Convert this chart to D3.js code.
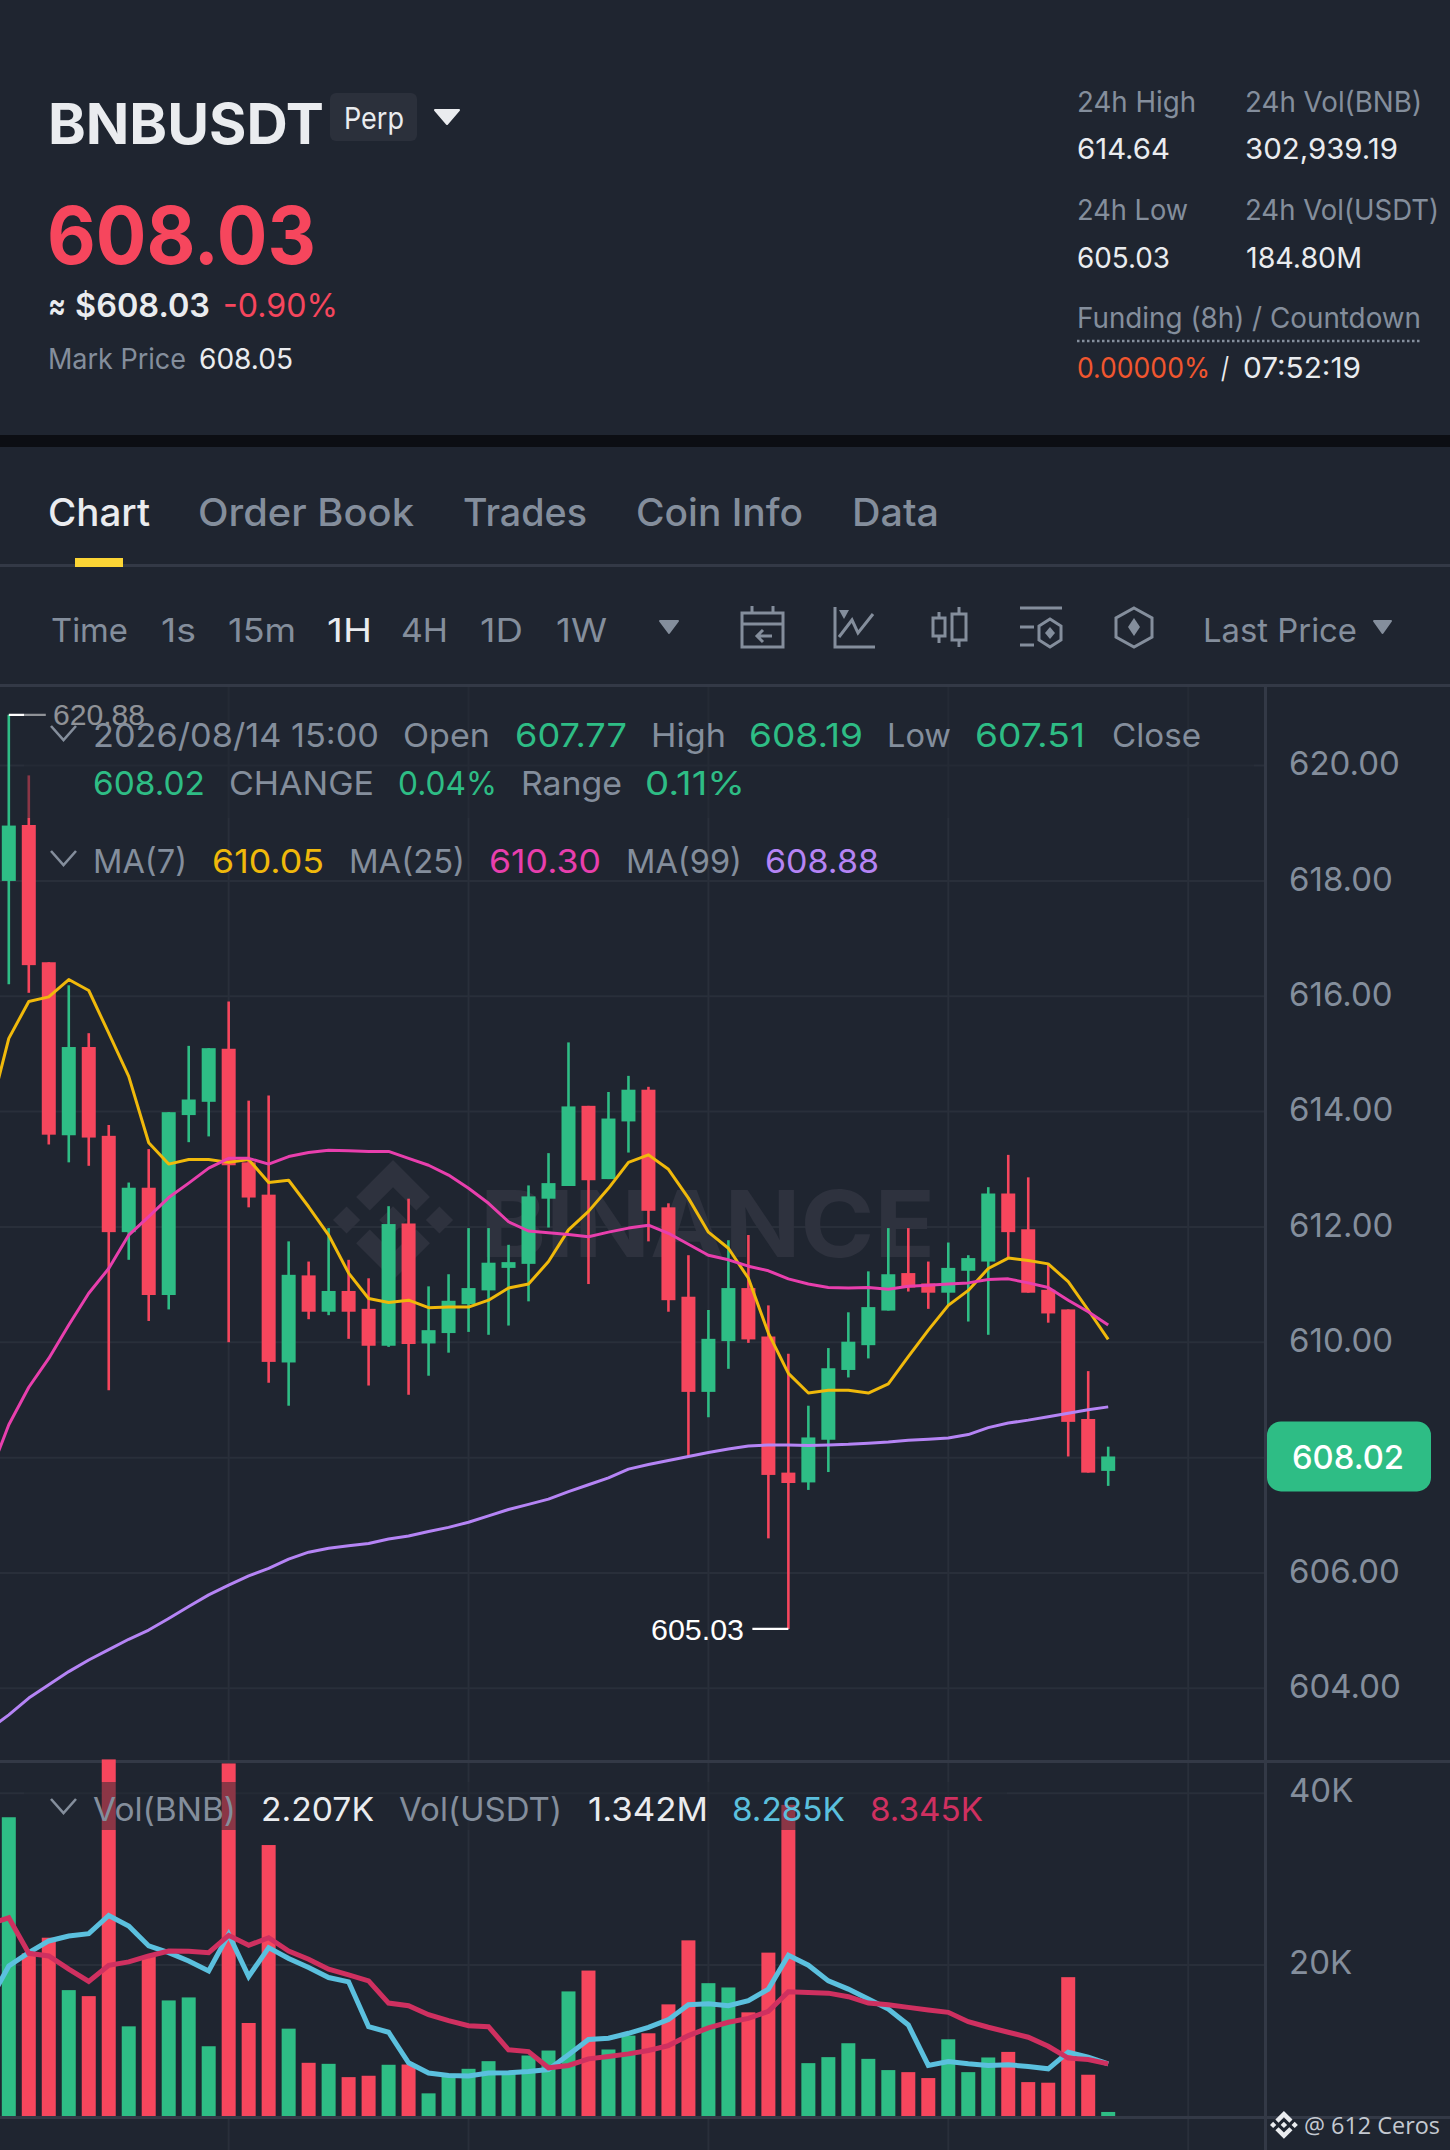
<!DOCTYPE html>
<html>
<head>
<meta charset="utf-8">
<title>BNBUSDT Perp</title>
<script src="https://cdn.jsdelivr.net/npm/d3@7"></script>
<style>
  html, body { margin: 0; padding: 0; background: #1f2530; }
  svg { display: block; }
  text { font-family: Inter, "Open Sans", sans-serif; }
</style>
</head>
<body>
<svg id="page" width="1450" height="2150"></svg>
<script>
// Candles (1H, oldest first)
const opens = [618.00,618.97,616.59,613.59,615.12,613.58,611.91,612.68,610.82,613.94,614.17,615.09,613.12,612.56,609.65,611.16,610.53,610.89,610.58,609.94,612.06,609.98,610.16,610.66,610.90,611.29,611.36,612.49,612.71,614.10,612.83,613.83,614.38,612.34,610.79,609.14,610.02,610.94,610.10,607.74,607.57,608.31,609.52,609.95,610.55,611.20,611.02,610.86,611.24,611.40,612.58,611.96,610.91,610.57,608.67,607.77];
const closes = [618.96,616.54,613.60,615.12,613.55,611.91,612.68,610.82,613.99,614.21,615.10,613.07,612.51,609.66,611.17,610.53,610.89,610.53,609.94,612.05,609.97,610.21,610.72,610.94,611.38,611.39,612.53,612.76,614.09,612.81,613.88,614.38,612.28,610.73,609.14,610.06,610.94,610.05,607.70,607.56,608.35,609.55,610.01,610.61,611.18,610.95,610.86,611.29,611.46,612.58,611.91,610.86,610.50,608.62,607.74,608.02];
const highs = [620.88,619.83,616.59,616.19,615.36,613.77,612.77,613.35,613.99,615.14,615.10,615.91,614.19,614.28,611.75,611.40,611.98,611.43,611.11,612.36,612.49,610.97,611.18,611.98,611.98,611.69,612.72,613.28,615.20,614.10,614.34,614.62,614.43,612.41,611.51,610.56,611.77,611.86,610.64,609.80,608.90,609.90,610.52,611.23,611.98,611.98,611.40,611.73,611.51,612.69,613.25,612.86,611.34,610.57,609.50,608.19];
const lows = [616.21,616.06,613.43,613.12,613.06,609.17,611.43,610.37,610.57,613.47,613.57,610.00,612.34,609.30,608.90,610.40,610.47,610.06,609.25,609.92,609.09,609.42,609.82,610.18,610.13,610.29,610.71,611.99,612.71,611.01,612.83,613.29,611.75,610.53,608.02,608.70,609.54,609.99,606.60,605.03,607.44,607.75,609.39,609.72,610.55,610.88,610.58,610.64,610.36,610.13,611.47,610.86,610.34,608.02,607.74,607.51];

// Moving averages: the first value belongs to the candle just left of the frame
const ma7 = [613.90,615.27,615.91,615.99,616.29,616.10,615.36,614.61,613.46,613.09,613.17,613.17,613.12,613.17,612.77,612.81,612.35,611.86,611.20,610.76,610.69,610.73,610.60,610.61,610.61,610.73,610.94,611.01,611.40,611.95,612.27,612.67,613.12,613.25,613.00,612.50,611.91,611.63,611.11,610.16,609.46,609.12,609.17,609.17,609.12,609.28,609.75,610.21,610.64,610.90,611.28,611.46,611.42,611.36,611.05,610.56,610.05];
const ma25 = [607.67,608.57,609.22,609.72,610.30,610.85,611.28,611.86,612.18,612.51,612.76,613.02,613.19,613.19,613.09,613.22,613.29,613.33,613.32,613.31,613.31,613.19,613.07,612.90,612.67,612.41,612.09,611.93,611.90,611.87,611.83,611.91,611.98,612.03,611.89,611.70,611.51,611.43,611.32,611.24,611.10,611.01,610.95,610.94,610.95,610.92,610.97,610.99,611.01,611.03,611.09,611.10,611.03,610.95,610.73,610.53,610.30];
const ma99 = [603.28,603.54,603.83,604.06,604.29,604.49,604.67,604.85,605.01,605.21,605.42,605.62,605.79,605.95,606.08,606.24,606.36,606.43,606.47,606.51,606.59,606.64,606.72,606.79,606.88,606.99,607.10,607.19,607.28,607.41,607.53,607.65,607.80,607.88,607.95,608.02,608.09,608.15,608.20,608.22,608.22,608.21,608.22,608.23,608.25,608.27,608.30,608.32,608.34,608.40,608.52,608.60,608.65,608.71,608.77,608.83,608.88];

// Volume in thousands of BNB
const volumes = [37.21,21.35,23.17,17.06,16.36,43.95,12.84,21.04,15.86,16.21,10.52,43.48,13.23,33.97,12.57,8.59,8.47,6.92,7.08,8.36,8.39,5.03,7.31,7.89,8.78,7.31,9.44,10.02,16.91,19.34,10.14,11.76,12.03,15.40,22.86,17.87,17.37,14.47,21.43,38.65,8.55,9.25,10.87,9.05,7.74,7.50,6.81,11.33,7.50,9.21,9.86,6.34,6.27,18.57,7.20,2.86];
const volFast = [15.63,19.88,21.43,22.79,23.37,23.64,25.76,24.53,22.21,21.43,20.46,19.30,23.56,18.65,22.01,20.74,19.69,18.53,18.03,12.80,12.15,8.59,7.39,7.12,7.04,7.39,7.43,7.58,7.81,9.52,11.30,11.45,12.03,12.73,13.62,15.36,15.47,15.24,15.82,17.18,21.12,19.96,18.14,17.18,16.02,14.85,13.00,8.28,8.74,8.47,8.28,8.36,8.16,7.89,9.83,9.25,8.47];
const volSlow = [24.72,25.49,21.35,21.04,19.50,18.07,19.96,20.35,21.04,21.62,21.59,21.43,23.44,22.28,23.17,21.62,20.66,19.50,18.84,18.14,15.55,15.24,14.20,13.50,12.92,12.80,10.10,9.90,8.01,8.28,9.05,9.32,9.63,10.02,10.60,11.76,12.65,13.31,13.77,14.58,16.87,16.79,16.71,16.29,15.55,15.36,15.05,14.74,14.47,13.38,12.73,12.15,11.57,10.52,9.13,8.97,8.47];

const priceTicks = [604,606,608,610,612,614,616,618,620];
const axisTicks = [604,606,610,612,614,616,618,620]; // 608 sits behind the last price tag
const volTicks = [20,40];
const timeGrid = [11,23,35,47,59];
const tabs = ["Chart","Order Book","Trades","Coin Info","Data"];
const intervals = ["Time","1s","15m","1H","4H","1D","1W"];

const UP = "#2ebd85", DOWN = "#f6465d", BG = "#1f2530";
const GRAY = "#848e9c", WHITE = "#eaecef", LINE = "#333946", GRID = "#292f3a";
const YELLOW = "#f0b90b", MAGENTA = "#e83fad", PURPLE = "#b584f5", CYAN = "#5bc0de", ROSE = "#cf3060";
const LOGO = "M38.73 53.2l24.59-24.58 24.6 24.6 14.3-14.31L63.32 0 24.42 38.9zM0 63.31l14.3-14.31 14.31 14.31-14.31 14.3zM38.73 73.41l24.59 24.59 24.6-24.6 14.31 14.29-38.9 38.91-38.91-38.88-.02-.02zM98 63.31l14.3-14.31 14.31 14.3-14.31 14.32zM77.83 63.3L63.32 48.78 52.59 59.51l-1.24 1.23-2.54 2.54 14.51 14.5 14.51-14.47z";

const svg = d3.select("#page");

// Text with its left and right edge pinned
function label(parent, x, y, str, size, fill, weight, x2){
	let t = parent.append("text")
		.attr("x", x).attr("y", y)
		.attr("font-size", size)
		.attr("font-weight", weight || 400)
		.attr("fill", fill)
		.text(str);
	if (x2) t.attr("textLength", x2 - x).attr("lengthAdjust", "spacingAndGlyphs");
	return t;
}

function triangle(parent, x1, x2, y1, y2, fill){
	parent.append("path")
		.attr("d", `M${x1} ${y1}L${x2} ${y1}L${(x1+x2)/2} ${y2}Z`)
		.attr("fill", fill).attr("stroke", fill).attr("stroke-width", 2).attr("stroke-linejoin", "round");
}

function chevron(parent, y){
	parent.append("path")
		.attr("d", `M51 ${y}L63.5 ${y+14}L76 ${y}`)
		.attr("fill", "none").attr("stroke", GRAY).attr("stroke-width", 2.6);
}

// ---- header ----
let head = svg.append("g");
head.append("rect").attr("x", 0).attr("y", 435).attr("width", 1450).attr("height", 12).attr("fill", "#0c0e13");
label(head, 48, 144, "BNBUSDT", 56, WHITE, 700, 324);
head.append("rect").attr("x", 330).attr("y", 93).attr("width", 87).attr("height", 48).attr("rx", 6).attr("fill", "#2b303b");
label(head, 344, 129, "Perp", 30, WHITE, 400, 404);
triangle(head, 435, 459, 110, 124, WHITE);
label(head, 47, 264, "608.03", 80, DOWN, 700, 316);
label(head, 48, 318, "≈", 36, WHITE, 600, 66);
label(head, 75, 317, "$608.03", 33, WHITE, 600, 210);
label(head, 223, 317, "-0.90%", 33, DOWN, 400, 338);
label(head, 48, 369, "Mark Price", 28, GRAY, 400, 186);
label(head, 199, 369, "608.05", 28, WHITE, 400, 293);

label(head, 1077, 112, "24h High", 29, GRAY, 400, 1196);
label(head, 1245, 112, "24h Vol(BNB)", 29, GRAY, 400, 1422);
label(head, 1077, 159, "614.64", 29, WHITE, 400, 1170);
label(head, 1245, 159, "302,939.19", 29, WHITE, 400, 1398);
label(head, 1077, 220, "24h Low", 29, GRAY, 400, 1188);
label(head, 1245, 220, "24h Vol(USDT)", 29, GRAY, 400, 1439);
label(head, 1077, 268, "605.03", 29, WHITE, 400, 1170);
label(head, 1246, 268, "184.80M", 29, WHITE, 400, 1362);
label(head, 1077, 328, "Funding (8h) / Countdown", 29, GRAY, 400, 1421);
head.append("line").attr("x1", 1077).attr("x2", 1422).attr("y1", 341).attr("y2", 341)
	.attr("stroke", GRAY).attr("stroke-width", 2.5).attr("stroke-dasharray", "2.5 2.5");
label(head, 1077, 378, "0.00000%", 29, "#f0562f", 400, 1210);
label(head, 1221, 378, "/", 29, WHITE, 400, 1229);
label(head, 1243, 378, "07:52:19", 29, WHITE, 400, 1361);

// ---- tabs and toolbar ----
let tabX = [[48,150],[198,414],[463,587],[636,803],[852,939]];
tabs.forEach((s, i) => label(svg, tabX[i][0], 526, s, 38, i == 0 ? WHITE : GRAY, 500, tabX[i][1]));
svg.append("rect").attr("x", 0).attr("y", 564).attr("width", 1450).attr("height", 3).attr("fill", LINE);
svg.append("rect").attr("x", 75).attr("y", 558).attr("width", 48).attr("height", 9).attr("fill", "#fcd535");

let toolX = [[51,128],[161,196],[228,296],[327,372],[401,448],[480,523],[556,607]];
intervals.forEach((s, i) => label(svg, toolX[i][0], 642, s, 33, s == "1H" ? WHITE : GRAY, 400, toolX[i][1]));
triangle(svg, 660, 678, 621, 633, GRAY);
label(svg, 1203, 642, "Last Price", 33, GRAY, 400, 1357);
triangle(svg, 1374, 1391, 621, 633, GRAY);
svg.append("rect").attr("x", 0).attr("y", 684).attr("width", 1450).attr("height", 3).attr("fill", LINE);

// toolbar icons, all drawn as outlines
let icons = svg.append("g").attr("fill", "none").attr("stroke", GRAY).attr("stroke-width", 3);
icons.append("path").attr("d", "M742 613H783V647H742ZM742 624H783M752 606V613M773 606V613M772 636H757M763 630L757 636L763 642");
icons.append("path").attr("d", "M835 607V647H875M839 637L852 620L858 633L873 614");
icons.append("path").attr("d", "M839 610H849L844 619Z").attr("fill", GRAY).attr("stroke", "none");
icons.append("path").attr("d", "M939 612V618M939 636V643M933 618H945V636H933ZM959 607V614M959 640V647M952 614H966V640H952Z");
icons.append("path").attr("d", "M1020 608H1062M1020 627H1034M1020 645H1034M1050 619L1061 626V640L1050 647L1039 640V626Z");
icons.append("path").attr("d", "M1050 627L1055 633L1050 639L1045 633Z").attr("fill", GRAY).attr("stroke", "none");
icons.append("path").attr("d", "M1134 608L1152 618V637L1134 647L1116 637V618Z");
icons.append("path").attr("d", "M1134 618L1140 627L1134 636L1128 627Z").attr("fill", GRAY).attr("stroke", "none");

// ---- scales ----
const x = d3.scaleLinear().domain([0, 55]).range([8.8, 1108.2]);
const y = d3.scaleLinear().domain([604, 620]).range([1688.3, 765.6]);
const yVol = d3.scaleLinear().domain([20, 40]).range([1964.9, 1793.3]);
const isUp = i => closes[i] >= opens[i];
const bodyW = 14;

// ---- clip regions for the two panes ----
let defs = svg.append("defs");
defs.append("clipPath").attr("id", "mainClip").append("rect").attr("x", 0).attr("y", 687).attr("width", 1265).attr("height", 1074);
defs.append("clipPath").attr("id", "volClip").append("rect").attr("x", 0).attr("y", 1755).attr("width", 1265).attr("height", 361);

// ---- grid ----
let grid = svg.append("g").attr("stroke", GRID).attr("stroke-width", 2);
grid.selectAll(".h").data(priceTicks).join("line").attr("class", "h")
	.attr("x1", 0).attr("x2", 1265).attr("y1", d => y(d)).attr("y2", d => y(d));
grid.selectAll(".hv").data(volTicks).join("line").attr("class", "hv")
	.attr("x1", 0).attr("x2", 1265).attr("y1", d => yVol(d)).attr("y2", d => yVol(d));
grid.selectAll(".v").data(timeGrid).join("line").attr("class", "v")
	.attr("x1", d => x(d)).attr("x2", d => x(d)).attr("y1", 687).attr("y2", 2150);

// Binance watermark
let wm = svg.append("g").attr("fill", "#2e323e");
wm.append("path").attr("d", LOGO).attr("transform", "translate(333,1160) scale(0.948)");
label(wm, 480, 1257, "BINANCE", 92, "#2e323e", 700, 935);

// ---- frame lines ----
svg.append("rect").attr("x", 0).attr("y", 1760).attr("width", 1450).attr("height", 3).attr("fill", LINE);
svg.append("rect").attr("x", 0).attr("y", 2116).attr("width", 1450).attr("height", 3).attr("fill", LINE);
svg.append("rect").attr("x", 1264).attr("y", 687).attr("width", 3).attr("height", 1463).attr("fill", LINE);

// ---- volume pane ----
let volPane = svg.append("g").attr("clip-path", "url(#volClip)");
volPane.selectAll("rect").data(volumes).join("rect")
	.attr("x", (d, i) => x(i) - bodyW/2)
	.attr("width", bodyW)
	.attr("y", d => yVol(d))
	.attr("height", d => yVol(0) - yVol(d))
	.attr("fill", (d, i) => isUp(i) ? UP : DOWN);

const lineAt = scale => d3.line().x((d, i) => x(i - 1)).y(d => scale(d));
volPane.append("path").attr("d", lineAt(yVol)(volFast)).attr("fill", "none").attr("stroke", CYAN).attr("stroke-width", 5);
volPane.append("path").attr("d", lineAt(yVol)(volSlow)).attr("fill", "none").attr("stroke", ROSE).attr("stroke-width", 5);

// ---- candles ----
let mainPane = svg.append("g").attr("clip-path", "url(#mainClip)");
let candles = mainPane.selectAll("g.candle").data(opens).join("g").attr("class", "candle");
candles.append("line")
	.attr("x1", (d, i) => x(i)).attr("x2", (d, i) => x(i))
	.attr("y1", (d, i) => y(highs[i])).attr("y2", (d, i) => y(lows[i]))
	.attr("stroke", (d, i) => isUp(i) ? UP : DOWN).attr("stroke-width", 2.6);
candles.append("rect")
	.attr("x", (d, i) => x(i) - bodyW/2)
	.attr("width", bodyW)
	.attr("y", (d, i) => y(Math.max(opens[i], closes[i])))
	.attr("height", (d, i) => Math.abs(y(opens[i]) - y(closes[i])))
	.attr("fill", (d, i) => isUp(i) ? UP : DOWN);

[[ma7, YELLOW], [ma25, MAGENTA], [ma99, PURPLE]].forEach(s => {
	mainPane.append("path").attr("d", lineAt(y)(s[0]))
		.attr("fill", "none").attr("stroke", s[1]).attr("stroke-width", 3).attr("stroke-linejoin", "round");
});

// High and low markers
const hiIdx = highs.indexOf(d3.max(highs)), loIdx = lows.indexOf(d3.min(lows));
mainPane.append("line").attr("x1", x(hiIdx)).attr("x2", x(hiIdx) + 37).attr("y1", y(highs[hiIdx])).attr("y2", y(highs[hiIdx]))
	.attr("stroke", "#ffffff").attr("stroke-width", 2.4);
let hiLabel = label(mainPane, 53, y(highs[hiIdx]) + 10, d3.format(".2f")(highs[hiIdx]), 29, "#ffffff", 400, 145);
hiLabel.style("font-family", "'Liberation Sans'");
mainPane.append("line").attr("x1", x(loIdx) - 36).attr("x2", x(loIdx)).attr("y1", y(lows[loIdx])).attr("y2", y(lows[loIdx]))
	.attr("stroke", "#ffffff").attr("stroke-width", 2.4);
let loLabel = label(mainPane, 651, y(lows[loIdx]) + 11, d3.format(".2f")(lows[loIdx]), 29, "#ffffff", 400, 744);
loLabel.style("font-family", "'Liberation Sans'");

// ---- legends ----
// The legend strip dims whatever lies under it
svg.append("rect").attr("x", 24).attr("y", 687).attr("width", 1230).attr("height", 131).attr("fill", BG).attr("opacity", 0.5);
svg.append("rect").attr("x", 24).attr("y", 1782).attr("width", 983).attr("height", 48).attr("fill", BG).attr("opacity", 0.5);

chevron(svg, 726);
label(svg, 93, 747, "2026/08/14 15:00", 33, GRAY, 400, 379);
label(svg, 403, 747, "Open", 33, GRAY, 400, 490);
label(svg, 515, 747, "607.77", 33, UP, 400, 627);
label(svg, 651, 747, "High", 33, GRAY, 400, 726);
label(svg, 749, 747, "608.19", 33, UP, 400, 863);
label(svg, 887, 747, "Low", 33, GRAY, 400, 951);
label(svg, 975, 747, "607.51", 33, UP, 400, 1085);
label(svg, 1112, 747, "Close", 33, GRAY, 400, 1201);
label(svg, 93, 795, "608.02", 33, UP, 400, 205);
label(svg, 229, 795, "CHANGE", 33, GRAY, 400, 374);
label(svg, 398, 795, "0.04%", 33, UP, 400, 497);
label(svg, 521, 795, "Range", 33, GRAY, 400, 622);
label(svg, 645, 795, "0.11%", 33, UP, 400, 745);

chevron(svg, 851);
label(svg, 93, 873, "MA(7)", 33, GRAY, 400, 187);
label(svg, 212, 873, "610.05", 33, YELLOW, 400, 324);
label(svg, 349, 873, "MA(25)", 33, GRAY, 400, 465);
label(svg, 489, 873, "610.30", 33, MAGENTA, 400, 601);
label(svg, 626, 873, "MA(99)", 33, GRAY, 400, 742);
label(svg, 765, 873, "608.88", 33, PURPLE, 400, 879);

chevron(svg, 1799);
label(svg, 93, 1821, "Vol(BNB)", 33, GRAY, 400, 236);
label(svg, 261, 1821, "2.207K", 33, WHITE, 400, 374);
label(svg, 399, 1821, "Vol(USDT)", 33, GRAY, 400, 562);
label(svg, 588, 1821, "1.342M", 33, WHITE, 400, 708);
label(svg, 732, 1821, "8.285K", 33, CYAN, 400, 845);
label(svg, 870, 1821, "8.345K", 33, ROSE, 400, 983);

// ---- right axes ----
let priceAxis = svg.append("g").attr("transform", "translate(1265,-1.5)")
	.call(d3.axisRight(y).tickValues(axisTicks).tickSize(0).tickPadding(24).tickFormat(d3.format(".2f")));
let volAxis = svg.append("g").attr("transform", "translate(1265,-2)")
	.call(d3.axisRight(yVol).tickValues(volTicks).tickSize(0).tickPadding(24).tickFormat(d => d + "K"));
[priceAxis, volAxis].forEach(a => {
	a.select(".domain").remove();
	a.selectAll("text").attr("font-size", 33).attr("fill", GRAY).style("font-family", "Inter");
});

// Last price tag
const lastClose = closes[closes.length - 1];
svg.append("rect").attr("x", 1267).attr("y", y(lastClose) - 35).attr("width", 164).attr("height", 70).attr("rx", 14).attr("fill", UP);
label(svg, 1292, y(lastClose) + 13, d3.format(".2f")(lastClose), 33, "#ffffff", 500, 1404);

// ---- credit, bottom right ----
svg.append("path").attr("d", LOGO).attr("fill", "#eaecef").attr("transform", "translate(1270,2111) scale(0.22)");
let credit = label(svg, 1304, 2134, "@ 612 Ceros", 24, "#c4c9d1", 400, 1440);
credit.style("font-family", "'Open Sans'");
</script>
</body>
</html>
